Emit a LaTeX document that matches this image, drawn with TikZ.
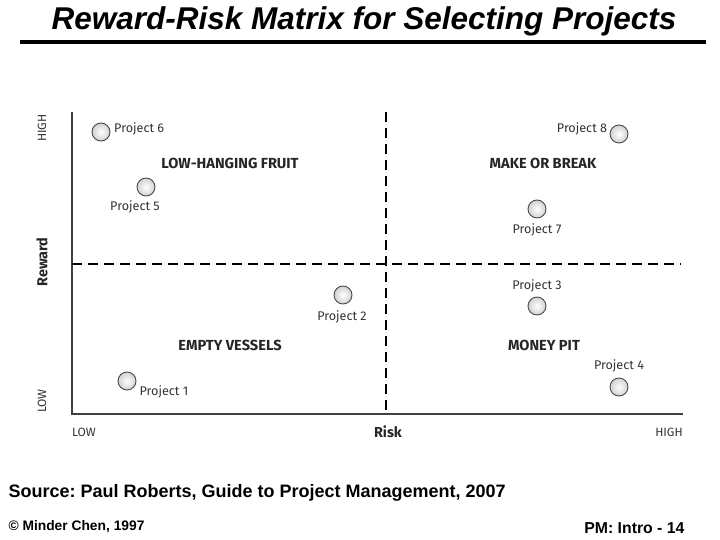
\documentclass[tikz,border=0pt]{standalone}
\usepackage{fontspec}
\setmainfont{Liberation Sans}
\newfontfamily\chartfont{Fira Sans}
\usetikzlibrary{shadings}
\frenchspacing
\begin{document}
\begin{tikzpicture}[x=1pt,y=-1pt,
  axis/.style={draw=black!75, line width=1.8pt},
  divider/.style={draw=black, line width=2.6pt, dash pattern=on 10pt off 6pt},
  proj/.style={circle, minimum size=18pt, inner sep=0pt, draw=black!70, line width=0.9pt, inner color=white, outer color=black!18},
  plabel/.style={font=\chartfont\fontsize{12.6}{13}\selectfont, text=black!80, inner sep=1pt},
  quad/.style={font=\chartfont\bfseries\fontsize{14.6}{15}\selectfont, text=black!85},
  tick/.style={font=\chartfont\fontsize{12}{13}\selectfont, text=black!80},
  axlabel/.style={font=\chartfont\bfseries\fontsize{14.4}{15}\selectfont, text=black!85}]
\useasboundingbox (0,0) rectangle (720,540);
% title
\node (title) at (364,21) {\fontsize{31.5}{33}\selectfont\bfseries\itshape Reward-Risk Matrix for Selecting Projects};
\draw[line width=4pt] (20,42) -- (706,42);
% axes
\coordinate (o) at (72,414);
\coordinate (ytop) at (72,112);
\coordinate (xend) at (683,414);
\draw[axis] (ytop) -- (o) -- (xend);
% dividers
\coordinate (vt) at (386,112);
\coordinate (vb) at (386,414);
\coordinate (hl) at (72,264);
\coordinate (hr) at (681,264);
\draw[divider] (vt) -- (vb);
\draw[divider] (hl) -- (hr);
% axis labels
\node[tick, rotate=90] (yhigh) at (42,128) {HIGH};
\node[axlabel, rotate=90] (reward) at (42,262) {Reward};
\node[tick, rotate=90] (ylow) at (42,401) {LOW};
\node[tick] (xlow) at (84,432) {LOW};
\node[axlabel] (risk) at (388,432) {Risk};
\node[tick] (xhigh) at (669,432) {HIGH};
% quadrant labels
\node[quad] (q1) at (230,163) {LOW-HANGING FRUIT};
\node[quad] (q2) at (543,163) {MAKE OR BREAK};
\node[quad] (q3) at (230,345) {EMPTY VESSELS};
\node[quad] (q4) at (544,345) {MONEY PIT};
% projects
\node[proj] (p6) at (101,132) {};
\node[plabel, anchor=west] (l6) at (113,129) {Project 6};
\node[proj] (p5) at (146,187) {};
\node[plabel] (l5) at (135,207) {Project 5};
\node[proj] (p8) at (619,134) {};
\node[plabel] (l8) at (582,129) {Project 8};
\node[proj] (p7) at (537,209) {};
\node[plabel] (l7) at (537,230) {Project 7};
\node[proj] (p2) at (343,295) {};
\node[plabel] (l2) at (342,317) {Project 2};
\node[proj] (p3) at (537,306) {};
\node[plabel] (l3) at (537,286) {Project 3};
\node[proj] (p4) at (619,387) {};
\node[plabel] (l4) at (619,366) {Project 4};
\node[proj] (p1) at (127,381) {};
\node[plabel] (l1) at (164,392) {Project 1};
% footer
\node[anchor=west] (src) at (5,493) {\fontsize{18}{19}\selectfont\bfseries Source: Paul Roberts, Guide to Project Management, 2007};
\node[anchor=west] (copy) at (5,527) {\fontsize{13.8}{15}\selectfont\bfseries \textcopyright\ Minder Chen, 1997};
\node[anchor=east] (pm) at (688,528) {\fontsize{15.8}{17}\selectfont\bfseries PM: Intro - 14};
\end{tikzpicture}
\end{document}
